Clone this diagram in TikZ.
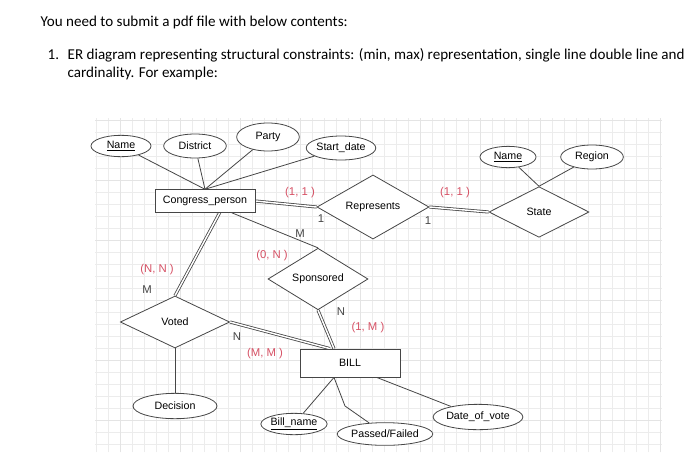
\documentclass[tikz,border=0pt]{standalone}
\usepackage{fontspec}
\setmainfont{Carlito}
\newfontfamily\diag{Liberation Sans}
\usetikzlibrary{shapes.geometric,backgrounds}
\definecolor{card}{RGB}{214,80,100}
\definecolor{ink}{RGB}{70,70,70}
\definecolor{gridc}{RGB}{228,228,228}
\begin{document}
\begin{tikzpicture}[x=0.75pt,y=-0.75pt,
  attr/.style={ellipse,draw=ink,semithick,fill=white,inner sep=0pt,font=\diag\fontsize{8}{9}\selectfont},
  ent/.style={rectangle,draw=ink,semithick,fill=white,minimum width=75pt,minimum height=17pt,font=\diag\fontsize{8}{9}\selectfont},
  rel/.style={diamond,draw=ink,semithick,fill=white,inner sep=0pt,font=\diag\fontsize{8}{9}\selectfont},
  ln/.style={draw=ink,semithick},
  dbl/.style={draw=ink,double,double distance=1.1pt,semithick},
  crd/.style={text=card,font=\diag\fontsize{8.5}{9}\selectfont},
  num/.style={text=ink,font=\diag\fontsize{8.5}{9}\selectfont}]
\useasboundingbox (0,0) rectangle (700,458);
% header
\node[anchor=west,font=\fontsize{11.3}{13}\selectfont] (h1) at (36,22) {You need to submit a pdf file with below contents:};
\node[anchor=west,font=\fontsize{11.3}{13}\selectfont] (h2) at (43,55) {1.};
\node[anchor=west,font=\fontsize{11.3}{13}\selectfont] (h3) at (63,55) {ER diagram representing structural constraints: (min, max) representation, single line double line and};
\node[anchor=west,font=\fontsize{11.3}{13}\selectfont] (h4) at (63,73) {cardinality. For example:};
% nodes
\node[attr,minimum width=45pt,minimum height=16pt] (name) at (121,146) {\underline{Name}};
\node[attr,minimum width=47pt,minimum height=18pt] (dist) at (195,146) {District};
\node[attr,minimum width=47pt,minimum height=21pt] (party) at (268,137) {Party};
\node[attr,minimum width=48pt,minimum height=18pt] (sd) at (341,148) {Start\_date};
\node[attr,minimum width=42pt,minimum height=16pt] (sname) at (508,157) {\underline{Name}};
\node[attr,minimum width=47pt,minimum height=18pt] (reg) at (592,157) {Region};
\node[ent] (cp) at (205,201) {Congress\_person};
\node[rel,minimum width=84pt,minimum height=40pt] (rep) at (373,207) {Represents};
\node[rel,minimum width=75pt,minimum height=38pt] (st) at (539,212) {State};
\node[rel,minimum width=75pt,minimum height=38pt] (sp) at (318,279) {Sponsored};
\node[rel,minimum width=82pt,minimum height=39pt] (vo) at (175,322) {Voted};
\node[ent,minimum height=21pt] (bill) at (350,363) {BILL};
\node[attr,minimum width=63pt,minimum height=19pt] (dec) at (175,406) {Decision};
\node[attr,minimum width=43pt,minimum height=16pt] (bn) at (294,424) {\underline{Bill\_name}};
\node[attr,minimum width=57pt,minimum height=17pt] (pf) at (385,434) {Passed/Failed};
\node[attr,minimum width=63pt,minimum height=19pt] (dv) at (478,417) {Date\_of\_vote};
\coordinate (bend) at (345,406);
% labels
\node[crd] (l1) at (300,193) {(1, 1 )};
\node[num] (l2) at (321,219) {1};
\node[crd] (l3) at (455,193) {(1, 1 )};
\node[num] (l4) at (428,221) {1};
\node[num] (l5) at (300,234) {M};
\node[crd] (l6) at (272,256) {(0, N )};
\node[crd] (l7) at (157,270) {(N, N )};
\node[num] (l8) at (147,290) {M};
\node[num] (l9) at (341,312) {N};
\node[crd] (l10) at (368,328) {(1, M )};
\node[num] (l11) at (237,337) {N};
\node[crd] (l12) at (265,354) {(M, M )};
\begin{scope}[on background layer]
\fill[white] (0,0) rectangle (700,458);
\begin{scope}
\clip (95,118) rectangle (662,452);
\draw[gridc!70,line width=0.3pt,step=9pt] (95,118) grid (662,452);
\draw[gridc,line width=0.6pt,step=45pt] (95,118) grid (662,452);
\end{scope}
\draw[ln] (name) -- (cp.north);
\draw[ln] (dist) -- (cp.north);
\draw[ln] (party) -- (cp.north);
\draw[ln] (sd) -- (cp.north);
\draw[dbl] (cp.east) -- (rep.west);
\draw[dbl] (rep.east) -- (st.west);
\draw[ln] (sname) -- (st.north);
\draw[ln] (reg) -- (st.north);
\draw[dbl] ([xshift=11pt]cp.south) -- (vo.north);
\draw[ln] ([xshift=20pt]cp.south) -- (sp.north);
\draw[dbl] (sp.south) -- ([xshift=-12pt]bill.north);
\draw[dbl] (vo.east) -- ([xshift=-15pt]bill.north);
\draw[ln] (vo.south) -- (dec);
\draw[ln] ([xshift=-12pt]bill.south) -- (bn);
\draw[ln] ([xshift=-12pt]bill.south) -- (bend) -- (pf);
\draw[ln] ([xshift=20pt]bill.south) -- (dv);
\end{scope}
\end{tikzpicture}
\end{document}
